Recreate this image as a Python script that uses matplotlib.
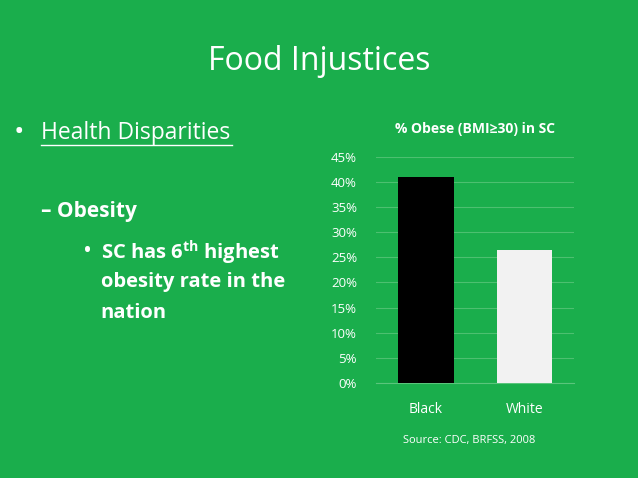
import matplotlib.pyplot as plt
from matplotlib.ticker import PercentFormatter

plt.rcParams['font.family'] = ['Open Sans', 'DejaVu Sans']

categories = ['Black', 'White']
obese_pct = [41.0, 26.5]
bar_colors = ['#000000', '#f2f2f2']
yticks = [0, 5, 10, 15, 20, 25, 30, 35, 40, 45]

bg = '#1aae4c'
fig = plt.figure(figsize=(6.38, 4.78), dpi=100, facecolor=bg)

fig.text(0.5, 0.872, 'Food Injustices', ha='center', va='center', fontsize=23, color='white')
fig.text(0.022, 0.722, '•', ha='left', va='center', fontsize=20, color='white')
fig.text(0.065, 0.722, 'Health Disparities', ha='left', va='center', fontsize=16.5, color='white')
fig.add_artist(plt.Line2D([0.065, 0.363], [0.697, 0.697], color='white', lw=1))
fig.text(0.065, 0.558, '– Obesity', ha='left', va='center', fontsize=15, color='white', fontweight='bold')
fig.text(0.13, 0.472, '•', ha='left', va='center', fontsize=17, color='white')
fig.text(0.158, 0.47, 'SC has 6$^{\\mathregular{th}}$ highest', ha='left', va='center', fontsize=14.5,
         color='white', fontweight='bold')
fig.text(0.158, 0.41, 'obesity rate in the', ha='left', va='center', fontsize=14.5, color='white', fontweight='bold')
fig.text(0.158, 0.345, 'nation', ha='left', va='center', fontsize=14.5, color='white', fontweight='bold')

ax = fig.add_axes([0.59, 0.199, 0.31, 0.473])
ax.set_facecolor(bg)
ax.bar(categories, obese_pct, color=bar_colors, width=0.56, zorder=3)
ax.set_xlim(-0.5, 1.5)
ax.set_ylim(0, 45)
ax.set_yticks(yticks)
ax.yaxis.set_major_formatter(PercentFormatter(decimals=0))
ax.grid(axis='y', color='#4cc070', lw=0.8, zorder=0)
for s in ['top', 'right', 'left']:
    ax.spines[s].set_visible(False)
ax.spines['bottom'].set_color('#5ac57c')
ax.tick_params(axis='y', length=0, colors='white', labelsize=9.5, pad=14)
ax.tick_params(axis='x', length=0, colors='white', labelsize=10, pad=14)
ax.set_title('% Obese (BMI≥30) in SC', color='white', fontsize=10, fontweight='bold', pad=17)
fig.text(0.735, 0.078, 'Source: CDC, BRFSS, 2008', ha='center', va='center', fontsize=8, color='white')

fig.savefig('out.png', dpi=100, facecolor=bg)
